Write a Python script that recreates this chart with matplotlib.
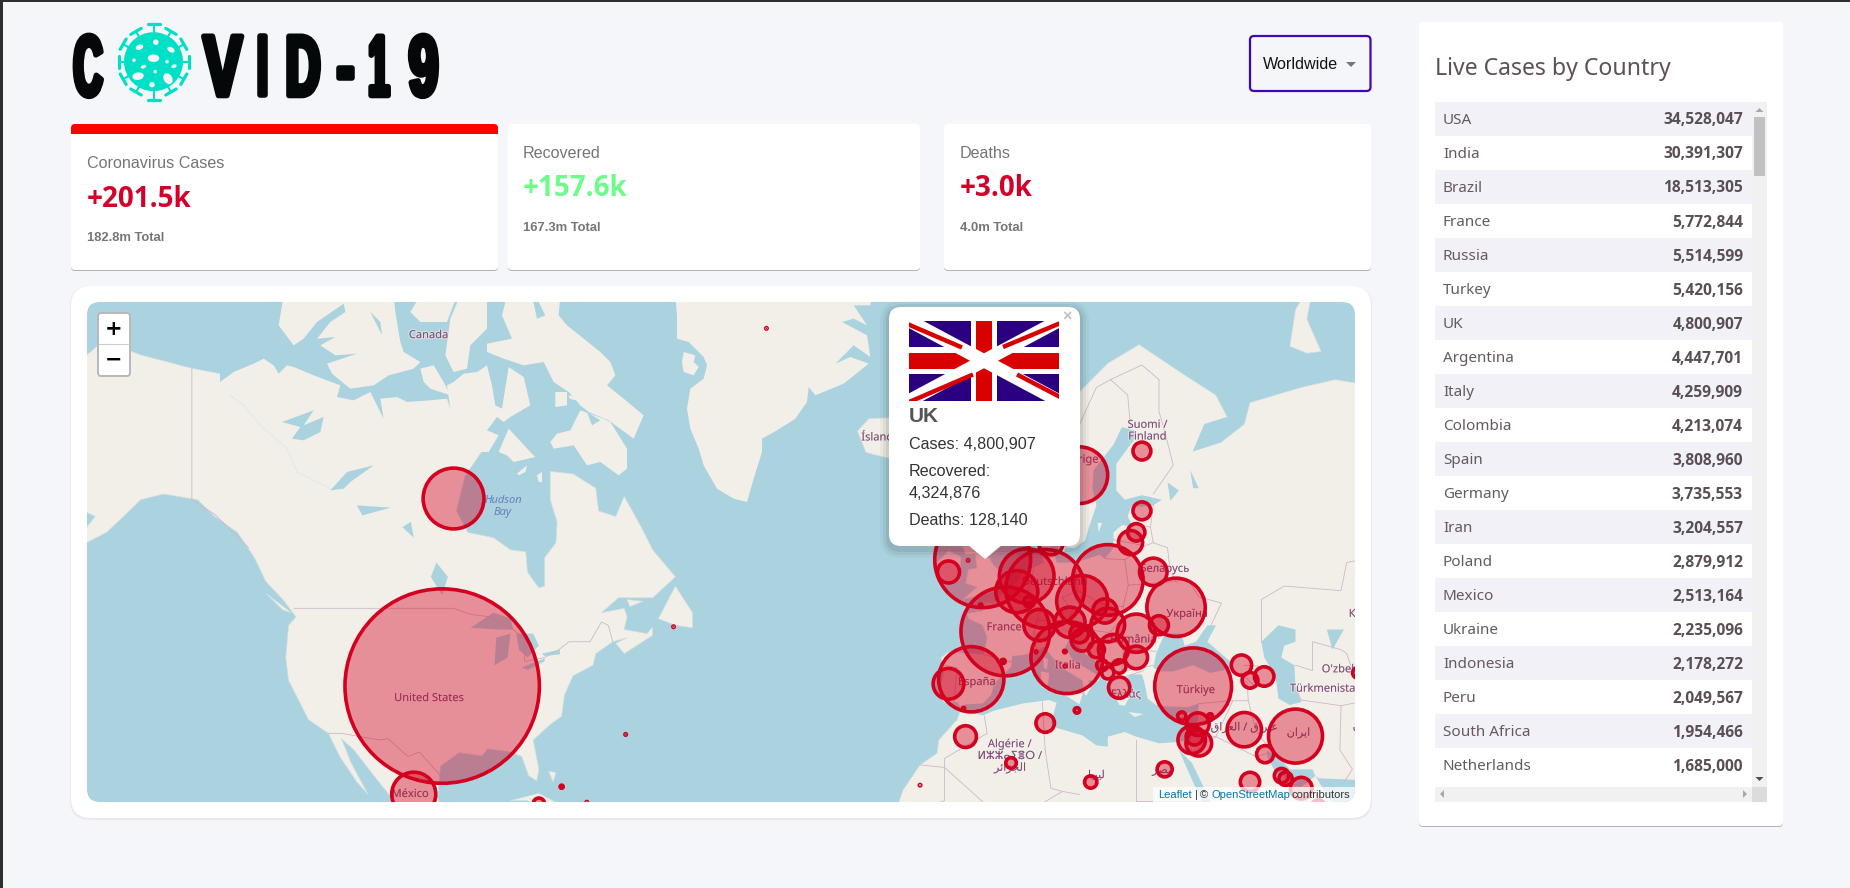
import numpy as np
import matplotlib
matplotlib.use('Agg')
import matplotlib.pyplot as plt
import matplotlib.patheffects as pe
from matplotlib.patches import FancyBboxPatch, Circle, Ellipse, Polygon, Rectangle
from matplotlib.transforms import Affine2D

W, H = 1850, 888

# --- page content -------------------------------------------------------
stat_titles = ['Coronavirus Cases', 'Recovered', 'Deaths']
stat_today = ['+201.5k', '+157.6k', '+3.0k']
stat_totals = ['182.8m Total', '167.3m Total', '4.0m Total']
stat_colors = ['#d4002a', '#6dfb8b', '#d4002a']

table_names = ['USA', 'India', 'Brazil', 'France', 'Russia', 'Turkey', 'UK', 'Argentina',
               'Italy', 'Colombia', 'Spain', 'Germany', 'Iran', 'Poland', 'Mexico',
               'Ukraine', 'Indonesia', 'Peru', 'South Africa', 'Netherlands']
table_cases = [34528047, 30391307, 18513305, 5772844, 5514599, 5420156, 4800907, 4447701,
               4259909, 4213074, 3808960, 3735553, 3204557, 2879912, 2513164,
               2235096, 2178272, 2049567, 1954466, 1685000]

# --- circles: country, lat, lon, cases ----------------------------------
map_names = ['USA', 'Canada', 'Mexico', 'Greenland', 'St Pierre', 'Bermuda', 'Bahamas', 'Cuba', 'Turks',
             'UK', 'Ireland', 'Isle of Man', 'Channel Is', 'Netherlands', 'Belgium', 'Luxembourg', 'Germany',
             'France', 'Switzerland', 'Austria', 'Italy', 'Spain', 'Portugal', 'Andorra', 'Monaco',
             'San Marino', 'Holy See', 'Gibraltar', 'Poland', 'Czechia', 'Slovakia', 'Hungary', 'Romania',
             'Bulgaria', 'Serbia', 'Croatia', 'Bosnia', 'Slovenia', 'Greece', 'N Macedonia', 'Albania',
             'Montenegro', 'Moldova', 'Ukraine', 'Belarus', 'Lithuania', 'Latvia', 'Estonia', 'Finland',
             'Sweden', 'Norway', 'Denmark', 'Morocco', 'Algeria', 'Tunisia', 'Libya', 'Egypt', 'Malta',
             'W Sahara', 'Turkey', 'Cyprus', 'Syria', 'Lebanon', 'Israel', 'Palestine', 'Jordan', 'Iraq',
             'Iran', 'Georgia', 'Armenia', 'Azerbaijan', 'Kuwait', 'Saudi Arabia', 'Bahrain', 'Qatar',
             'UAE', 'Oman', 'Uzbekistan']
map_lat = [38, 60, 23, 72, 46.83, 32.33, 24.25, 21.5, 21.75,
           54, 53, 54.23, 49.35, 52.5, 50.83, 49.75, 51,
           46, 47, 47.33, 42.83, 40, 39.5, 42.5, 43.73,
           43.77, 41.9, 36.13, 52, 49.75, 48.67, 47, 46,
           43, 44, 45.17, 44, 46, 39, 41.83, 41,
           42, 47, 49, 53, 56, 57, 59, 64,
           62, 62, 56, 32, 28, 34, 25, 27, 35.83,
           24.5, 39, 35, 35, 33.83, 31.5, 32, 31, 33,
           32, 42, 40, 40.5, 29.34, 25, 26, 25.5,
           24, 21, 41]
map_lon = [-97, -95, -102, -40, -56.33, -64.75, -76, -80, -71.58,
           -2, -8, -4.55, -2.36, 5.75, 4, 6.17, 9,
           2, 8, 13.33, 12.83, -4, -8, 1.6, 7.4,
           12.46, 12.45, -5.35, 20, 15.5, 19.5, 20, 25,
           25, 21, 15.5, 18, 15, 22, 22, 20,
           19, 29, 32, 28, 24, 25, 26, 26,
           15, 10, 10, -5, 3, 9, 17, 30, 14.58,
           -13, 35, 33, 38, 35.83, 34.75, 35.25, 36, 44,
           53, 43.5, 45, 47.5, 47.66, 45, 50.55, 51.25,
           54, 57, 64]
map_cases = [34528047, 1410000, 2513164, 120, 30, 2500, 12000, 170000, 2400,
             4800907, 270000, 100, 4000, 1685000, 1080000, 70000, 3735553,
             5772844, 700000, 650000, 4259909, 3808960, 860000, 13900, 2500,
             5090, 30, 4300, 2879912, 1660000, 390000, 808000, 1080000,
             420000, 715000, 360000, 205000, 257000, 420000, 155000, 132000,
             100000, 256000, 2235096, 420000, 278000, 137000, 130000, 94000,
             1080000, 128000, 290000, 520000, 133000, 360000, 190000, 275000, 30000,
             10, 5420156, 72000, 25000, 540000, 840000, 310000, 740000, 1270000,
             3204557, 350000, 223000, 335000, 340000, 470000, 260000, 220000,
             600000, 250000, 105000]

# --- geography, (lon, lat) outlines --------------------------------------
north_america = [(-168, 65.6), (-164, 66.5), (-166, 68.3), (-163, 69.5), (-156.5, 71.3), (-150, 70.5), (-141, 69.7),
                 (-135, 69.3), (-128, 70.2), (-124, 69.6), (-120, 69.4), (-115, 68.5), (-108, 68), (-102, 67.9),
                 (-97, 68.5), (-95, 71.5), (-92, 70), (-90, 68.8), (-86, 67.5), (-85, 69.5), (-81.5, 68.5),
                 (-82, 66.5), (-87, 65.5), (-90, 64), (-93, 62), (-94.5, 59), (-92.5, 57), (-88, 56.5),
                 (-85, 55.3), (-82.3, 55.1), (-82, 53), (-80, 51.3), (-79, 51.5), (-79, 54.5), (-77, 56),
                 (-76.8, 58), (-78, 60), (-78, 62.4), (-74, 62.2), (-70, 61), (-69.5, 59), (-66.5, 58.5),
                 (-65, 60.3), (-62, 57.5), (-60, 55.3), (-56, 52.5), (-60, 50.2), (-66, 50.2), (-69, 48.5),
                 (-65, 49), (-64.5, 48), (-65, 46.5), (-61, 46), (-60, 46.8), (-60, 45.8), (-65, 43.5),
                 (-66.5, 44.8), (-64.5, 45.5), (-67, 45), (-70, 43.5), (-70.5, 42), (-74, 40.6), (-75.5, 38),
                 (-76, 35), (-78, 33.8), (-81, 31.5), (-80, 27), (-80.4, 25.2), (-81.8, 26), (-83, 29),
                 (-85, 29.7), (-89, 30.2), (-90, 29.1), (-94, 29.6), (-97.3, 27.5), (-97.8, 22.5), (-97, 20),
                 (-94, 18), (-90, 21), (-87, 21.5), (-88, 16), (-84, 10), (-104, 10), (-105, 20), (-105.5, 22),
                 (-109, 26), (-112.5, 30), (-114.7, 31.7), (-113, 28), (-110, 23), (-112, 25), (-115, 29),
                 (-117, 32.5), (-120.5, 34.5), (-124, 40), (-124.5, 43), (-124, 47), (-122.7, 48), (-125, 50),
                 (-128, 52), (-130, 54.5), (-133, 57), (-137, 58.5), (-140, 60), (-146, 60.5), (-150, 60),
                 (-152, 59), (-156, 57), (-163, 55), (-158, 58.5), (-162, 59.5), (-165, 62), (-161, 64.5)]
eurasia_africa = [(25.5, 71.1), (20, 70), (15, 68.2), (12.5, 65.5), (10, 63.5), (5.2, 62), (5, 60), (5.7, 58.7),
                  (7.5, 58), (10, 59), (11.2, 59), (11.5, 58), (12.5, 56.5), (12.8, 55.6), (12, 55), (11, 54.3),
                  (10, 55.5), (10.5, 57.7), (8.2, 57), (8.2, 55), (8.8, 54), (7, 53.5), (5, 53), (4, 52),
                  (3, 51.3), (1.6, 50.8), (0, 49.5), (-1.5, 49.6), (-2, 48.7), (-4.7, 48.4), (-4.5, 47.8),
                  (-2, 47), (-1.2, 45.5), (-1.8, 43.4), (-8, 43.7), (-9.3, 43), (-8.8, 41), (-9.5, 38.7),
                  (-8.9, 37), (-6.5, 37), (-5.6, 36), (-5.9, 35.8), (-6.5, 34.5), (-9.7, 31.5), (-10, 29.5),
                  (-13, 27.7), (-16, 23.7), (-17, 21), (-17, 15), (-15, 10), (80, 10), (80, 73), (72, 73),
                  (68, 70), (68, 68.5), (60, 69), (54, 68.5), (45, 67.5), (44, 66), (40, 64.7), (35, 64),
                  (37, 66), (41, 66.5), (39, 68), (33, 69.4)]
islands = [
    [(-59, 47.8), (-56, 51.5), (-53, 48.5), (-53, 46.7), (-56, 47)],
    [(-128, 50.7), (-123.5, 48.5), (-125, 48.8)],
    [(-64.5, 50), (-61.7, 49.8), (-64, 49.2)],
    [(-24, 65.5), (-22, 66.4), (-16, 66.5), (-13.5, 65), (-18, 63.4), (-22.5, 63.9)],
    [(-5, 58.6), (-3, 58.6), (-2, 57.5), (-3, 56), (-1.5, 55), (0, 53.7), (1.7, 52.7), (1.2, 51.2), (-1, 50.7),
     (-5.5, 50), (-3, 51.4), (-5, 51.8), (-4.5, 53.3), (-3, 53.4), (-3.3, 54.9), (-5, 54.8), (-5.7, 56), (-6, 57.5)],
    [(-10, 54), (-8, 55.2), (-5.8, 54.6), (-6, 52.2), (-9.5, 51.5), (-10, 52.5)],
    [(52, 71), (55, 70.6), (57.5, 70.7), (55, 72.5), (56, 74), (65, 76), (68, 77), (60, 76), (53, 73)],
    [(-85, 22), (-80, 23.2), (-75, 20.7), (-74.2, 20), (-78, 19.9), (-82, 22)],
    [(-74.4, 19.8), (-70, 19.9), (-68.4, 18.6), (-71.5, 17.8), (-74.4, 18.4)],
    [(-78.3, 26.7), (-77, 26.5), (-77.5, 25)],
]
islands_after_sea = [
    [(8.2, 41.2), (9.7, 41), (9.5, 39.2), (8.5, 39)],
    [(8.7, 43), (9.5, 42.8), (9.3, 41.4), (8.7, 41.8)],
    [(12.5, 38), (15.6, 38.2), (15, 36.7)],
    [(23.6, 35.6), (26.3, 35.3), (24.7, 34.9)],
    [(32.3, 35), (34.5, 35.6), (33.7, 34.7)],
    [(10.2, 55.5), (10.8, 55.4), (10.5, 55)],
    [(11.2, 55.8), (12.6, 56), (12.3, 55), (11.3, 55.2)],
    [(18.2, 57.9), (19, 57.9), (18.4, 57)],
]
seas = [
    [(12.8, 55.5), (14.2, 55.5), (16, 56.2), (16.7, 57.5), (18, 59.5), (17.3, 61), (17.5, 62.5), (21, 64.5), (22.5, 65.8),
     (25, 65.5), (24.5, 64.8), (21.5, 63), (21.5, 60.8), (23, 60), (26, 60.4), (29.5, 60), (28, 59.5), (24, 59.3),
     (23.5, 58.5), (24.5, 57.5), (22.5, 57.7), (21, 57), (21, 55.5), (19.5, 54.4), (18.5, 54.8), (16, 54.3), (14, 54),
     (11, 54), (10.8, 54.8), (12, 55.3)],
    [(-5.6, 36), (-5, 36.7), (-2, 36.8), (-0.5, 38), (0, 39.5), (3, 41.8), (3.2, 43.2), (5, 43.3), (7.5, 43.8), (8.8, 44.4),
     (10.3, 43), (12.5, 41.4), (15.5, 40), (16, 38), (16.3, 38), (17, 39), (16.6, 40), (18.4, 39.9), (18, 40.8), (16, 41.7),
     (14, 42.5), (12.5, 44.3), (13.5, 45.7), (14.5, 45), (16, 43.5), (19.3, 41.8), (19.4, 40.4), (21, 38.5), (22, 36.6),
     (23, 36.5), (24, 38), (23, 40), (24, 40.8), (26, 40.8), (26.5, 39.5), (27, 37.5), (28.5, 36.6), (30.5, 36.4),
     (34, 36.3), (36, 36.8), (35.8, 34.5), (34.5, 31.5), (32, 31.2), (29, 31), (25, 32), (23, 32.7), (20, 32), (20, 30.5),
     (18, 30.7), (15.5, 32.2), (11, 33.3), (10, 34), (11, 36.9), (9.7, 37.3), (5, 36.8), (0, 35.8), (-2, 35.1), (-5.3, 35.8)],
    [(28, 41.7), (28.5, 43.5), (30, 46), (33, 46), (33.5, 44.5), (35.5, 45), (37.5, 47), (39, 47), (37.5, 45), (41.5, 42.5),
     (41.5, 41.5), (38, 41), (35, 42), (31.5, 41.2), (29, 41.2)],
    [(47, 45), (50, 47), (53, 46.5), (53, 45), (51, 44.5), (50.5, 43), (52.8, 42), (53, 39), (54, 37), (52, 36.6), (50, 37.5),
     (49.5, 40.5), (47.5, 43)],
    [(58.5, 46.5), (61.5, 46.5), (59.5, 44)],
    [(32.5, 30), (34.8, 28), (38, 22), (43, 13), (39, 15), (37, 21), (35, 25), (33.5, 28)],
    [(48, 30), (51, 28), (52, 27), (56, 27), (56.5, 26), (54, 24.2), (51.5, 24.5), (51, 26), (49.5, 26.5), (48, 29)],
    [(56.5, 26), (58, 23.7), (60, 21), (75, 21), (65, 25.3), (57, 25.6)],
    [(35, 64), (37, 66), (41, 66.5), (40, 65.5), (40, 64.7)],
    [(30.5, 61.5), (32.5, 60.8), (31, 59.9)], [(34.5, 62.5), (36, 61), (35, 61)],
    [(12.5, 59.3), (14, 59.2), (13, 58.4)],
    [(-92, 46.7), (-88, 48.5), (-85, 47.8), (-84.5, 46.5), (-87, 46.5)],
    [(-87.8, 42), (-87.5, 45.5), (-85, 46), (-85.5, 43)],
    [(-84, 46), (-81, 46), (-80, 44.5), (-82, 43), (-83.5, 44)],
    [(-83, 41.7), (-79, 42.9), (-79, 42.5), (-82, 41.4)],
    [(-79.5, 43.5), (-76.3, 44), (-76.3, 43.4), (-79, 43.2)],
    [(-98, 54), (-96, 52.5), (-97, 50.5), (-99, 52.5)],
    [(-112, 59.5), (-106, 59.3), (-111, 58.6)],
    [(-104, 57.5), (-102.5, 58), (-102, 56.5)],
]
borders = [
    [(-141, 69.7), (-141, 60), (-137, 58.7), (-131, 55.5)],
    [(-123, 49), (-95, 49), (-92, 48.3), (-88.5, 48), (-84.5, 46.5), (-82.5, 45.3), (-82.5, 42.5), (-79, 43), (-76.5, 44),
     (-74.7, 45), (-71, 45), (-69, 47.4), (-67.8, 47), (-67, 45)],
    [(-117, 32.5), (-114.7, 32.5), (-108, 31.5), (-106.5, 31.7), (-103, 29), (-101, 29.7), (-97.3, 26)],
    [(20.5, 69), (18, 68.5), (14.5, 65.5), (12, 61), (11.3, 59)],
    [(20.5, 69), (23.5, 68), (24, 65.8)], [(20.5, 69), (26, 69.9), (29, 69)],
    [(29, 69), (29, 66.9), (30, 65.5), (31.5, 62.9), (28, 60.5)],
    [(28, 59.5), (27.5, 57.5), (28, 56), (30.5, 55.5), (31, 53), (32, 52), (34, 52.3), (36, 50.3), (40, 49.6), (38.2, 47.1)],
    [(23.6, 51.6), (32, 52)], [(23, 54.3), (23.6, 51.6), (22.7, 49.2)],
    [(14.2, 53.9), (14.7, 51), (19, 49.5), (22.7, 49.2)], [(19.5, 54.4), (23, 54.3)],
    [(23, 54.3), (26.5, 55.7), (28, 56)], [(21, 56.3), (26.5, 55.7)], [(24.3, 57.9), (27.5, 57.5)],
    [(7, 53.3), (6, 51), (6, 49.5), (8, 49), (7.6, 47.6), (13, 47.5), (13.8, 48.7), (12, 50.2), (14.7, 51)],
    [(-1.8, 43.4), (3.2, 42.4)], [(7.5, 43.8), (7, 45.9), (7.6, 47.6)],
    [(3, 51.3), (6, 49.5)], [(4, 51.4), (6, 51)],
    [(22.7, 48), (26.5, 48.2), (29, 45.4)], [(22.7, 44), (28.5, 43.8)], [(22.7, 49.2), (22.7, 48), (20.3, 46.1), (22.7, 44)],
    [(13.5, 46.5), (16.5, 46.5), (20.3, 46.1)], [(16.9, 48.6), (22.7, 48)], [(22.7, 44), (22.5, 41.2), (26.3, 41.7), (28, 42)],
    [(20, 39.7), (26.3, 41.3)], [(-8.8, 42), (-6.5, 41.7), (-7, 37)],
    [(36, 36.8), (42, 37.2), (44.7, 37.2), (44.5, 39.7), (41.5, 41.5)], [(44.7, 37.2), (46, 33), (48.5, 30)],
    [(54, 37.3), (61, 36.5), (60.8, 30), (63, 27), (61.5, 25)],
    [(39, 32), (46, 29), (48, 29.5)], [(36, 32), (39, 32), (42, 37.2)], [(34.5, 29.5), (39, 32)],
    [(25, 31.5), (25, 20)], [(34.3, 31.3), (34.9, 29.5)], [(25, 22), (37, 22)],
    [(9, 30), (10, 24), (12, 23.5)], [(8.5, 37), (9, 30)], [(-1.7, 35), (-1.2, 32.5), (-8.7, 28.7), (-8.7, 27.3)],
    [(-13, 27.7), (-8.7, 27.3), (-8.7, 22), (-12, 21)], [(-8.7, 27.3), (-1, 21), (4, 19), (12, 23.5), (15, 23)],
    [(47, 50), (51, 51.5), (61, 51), (62, 54), (70, 55)], [(47, 50), (47, 45)],
    [(53, 42), (56, 41.3), (56, 45), (61, 44), (62, 43.5), (64, 39)], [(53, 39), (54, 37.3)],
    [(61, 36.5), (66, 37.3), (64, 39)], [(44, 42), (48, 41.8), (49.5, 40.5)], [(43.5, 41), (46, 39), (48, 39.5)],
    [(48.5, 29), (55, 22), (52, 19)], [(52, 24.5), (56, 25)],
]

# arctic coasts traced from the tiles, in 3x units of two crops of the screen
ARCTIC_A = (87, 302)
ARCTIC_B = (487, 302)
arctic_erase = [(ARCTIC_A, [(399, -20), (1340, -20), (1340, 399), (399, 399)])]
arctic_land = [
    (ARCTIC_A, [(399, 240), (440, 210), (500, 185), (530, 170), (560, 190), (575, 215), (600, 190), (620, 195), (680, 220),
                (760, 250), (750, 285), (800, 295), (850, 270), (870, 310), (890, 350), (880, 290), (930, 285), (960, 300),
                (1030, 295), (1080, 290), (1090, 320), (1080, 250), (1100, 240), (1130, 215), (1170, 210), (1200, 190),
                (1215, 250), (1225, 310), (1245, 320), (1265, 195), (1310, 225), (1330, 310), (1270, 345), (1250, 360),
                (1230, 345), (1200, 385), (1200, 420), (399, 420)]),
    (ARCTIC_A, [(590, -20), (575, 70), (620, 130), (650, 110), (690, 60), (770, 5), (775, 30), (730, 60), (690, 110), (745, 105),
                (700, 130), (745, 160), (810, 155), (720, 185), (735, 215), (790, 260), (860, 250), (905, 220), (980, 200),
                (1000, 180), (950, 150), (940, 120), (925, 30), (920, -20)]),
    (ARCTIC_A, [(1000, -20), (970, 30), (1000, 60), (1080, 60), (1110, -20)]),
    (ARCTIC_A, [(1120, -20), (1090, 50), (1075, 160), (1100, 210), (1140, 200), (1150, 130), (1200, 80), (1200, -20)]),
    (ARCTIC_A, [(1000, 200), (1040, 190), (1070, 240), (1090, 280), (1030, 260), (1010, 240)]),
    (ARCTIC_B, [(60, -20), (45, 40), (75, 110), (0, 125), (0, 150), (50, 170), (110, 190), (170, 180), (200, 240), (245, 270),
                (280, 310), (305, 330), (365, 355), (440, 410), (470, 340), (410, 290), (360, 250), (385, 220), (370, 180),
                (340, 150), (290, 110), (240, 70), (215, 40), (220, -20)]),
    (ARCTIC_B, [(190, 420), (210, 395), (250, 385), (280, 325), (350, 350), (370, 360), (420, 440), (420, 500), (395, 520),
                (340, 480), (300, 490), (260, 430), (200, 440)]),
    (ARCTIC_B, [(35, 450), (65, 380), (130, 450), (145, 465), (80, 480), (60, 460)]),
    (ARCTIC_B, [(0, 385), (35, 400), (5, 450), (-20, 450)]),
    (ARCTIC_B, [(205, 270), (240, 270), (240, 310), (205, 315)]),
    (ARCTIC_B, [(245, 280), (270, 285), (265, 295), (248, 290)]),
    (ARCTIC_B, [(90, 515), (120, 490), (115, 510), (95, 520)]),
    (ARCTIC_B, [(150, 520), (165, 510), (165, 540), (155, 540)]),
    (ARCTIC_B, [(565, -20), (570, 40), (570, 110), (605, 120), (650, 165), (660, 190), (650, 230), (610, 260), (600, 320),
                (610, 380), (635, 440), (650, 490), (690, 560), (740, 590), (780, 600), (800, 530), (825, 450), (825, 410),
                (870, 385), (925, 350), (960, 300), (965, 255), (985, 280), (1070, 245), (1145, 185), (1090, 165), (1045, 185),
                (1100, 130), (1150, 165), (1140, 100), (1065, 60), (1100, 50), (1140, 70), (1100, 10), (1150, 10), (1155, -20)]),
    (ARCTIC_B, [(590, 150), (625, 160), (620, 180), (635, 195), (620, 220), (590, 210), (585, 180)]),
]
arctic_water = [
    (ARCTIC_A, [(850, 30), (880, 60), (885, 100), (870, 70)]),
    (ARCTIC_A, [(585, 360), (680, 325), (650, 370), (710, 345), (700, 390), (650, 415), (615, 410), (640, 375)]),
    (ARCTIC_A, [(730, 565), (780, 510), (860, 490), (790, 540), (770, 560)]),
    (ARCTIC_B, [(135, -20), (150, 50), (175, 40), (145, -20)]),
    (ARCTIC_B, [(300, 330), (340, 355), (315, 370)]),
]
arctic_rivers = [
    (ARCTIC_A, [(430, 280), (470, 310), (520, 370), (600, 440), (630, 510), (730, 560)]),
]

label_texts = ['Canada', 'Ísland', 'United States', 'México', 'United Kingdom', 'Suomi /\nFinland', 'Беларусь', 'Deutschland',
               'France', 'España', 'Italia', 'Україна', 'România', 'Türkiye', 'Ελλάς',
               'Algérie /\nⵍⵣⵣⴰⵢⴻⵔ /\nﺮﺋﺍﺰﺠﻟﺍ', 'ﺎﻴﺒﻴﻟ', 'ﺮﺼﻣ', 'ﻕﺍﺮﻌﻟﺍ / ﻕﺍﺮﻴﻋ', 'ﻥﺍﺮﻳﺍ',
               "O'zbekiston", 'Türkmenistan', 'Sverige', 'Қазақстан', 'ﻥﺎﺘﺴﻧﺎﻐﻓﺍ']
label_lon = [-99.4, -20.5, -99.3, -102.6, -4, 27, 30, 10.7,
             1.8, -3, 13, 34, 24.5, 35.5, 23.2,
             2.8, 18, 29.7, 44, 53.5,
             63, 58.4, 15, 67.2, 67]
label_lat = [71.6, 65, 37.5, 23, 56, 65.5, 53.3, 51.9,
             46.7, 39.7, 41.9, 48.3, 45.2, 38.6, 38,
             29, 26, 26.8, 33.3, 32.5,
             41.4, 38.8, 63.3, 48.3, 33.4]

# logo glyphs: text, centre x, width on the page
logo_glyphs = ['C', 'V', 'I', 'D', '-', '1', '9']
logo_x = [88, 222.6, 262.5, 303, 345.5, 379, 423.5]
logo_w = [34, 44, 15, 40, 22, 26, 35]

PX_PER_DEG = 2048 / 360.0
MAP_BOX = (87, 302, 1355, 802)
LON_ZERO_X, EQUATOR_Y = 994, 929


def merc(lat):
    return np.degrees(np.arcsinh(np.tan(np.radians(lat))))


def box(ax, x0, y0, x1, y1, r, **kw):
    p = FancyBboxPatch((x0, y0), x1 - x0, y1 - y0, boxstyle='round,pad=0,rounding_size=%g' % r, **kw)
    ax.add_patch(p)
    return p


def px_axes(zorder):
    a = fig.add_axes([0, 0, 1, 1], zorder=zorder)
    a.set_xlim(0, W)
    a.set_ylim(H, 0)
    a.axis('off')
    return a


class Squeeze(pe.AbstractPathEffect):
    """draw text rescaled around an anchor point, with a stroke to keep it heavy"""

    def __init__(self, cx, cy, sx, sy, stroke, color):
        super().__init__()
        self.cx, self.cy, self.sx, self.sy, self.stroke, self.color = cx, cy, sx, sy, stroke, color

    def draw_path(self, renderer, gc, tpath, affine, rgbFace=None):
        gc0 = renderer.new_gc()
        gc0.copy_properties(gc)
        gc0.set_linewidth(self.stroke)
        gc0.set_foreground(self.color)
        gc0.set_joinstyle('round')
        t = affine + Affine2D().translate(-self.cx, -self.cy).scale(self.sx, self.sy).translate(self.cx, self.cy)
        renderer.draw_path(gc0, tpath, t, rgbFace)
        gc0.restore()


fig = plt.figure(figsize=(W / 100, H / 100), dpi=100, facecolor='#f5f6fa')
SANS = ['Liberation Sans']
UBU = ['Noto Sans', 'DejaVu Sans']

ui = px_axes(1)
top = px_axes(3)
top.patch.set_alpha(0)

# window edge
ui.add_patch(Rectangle((0, 0), W, 2, fc='#2e2e2e', ec='none'))
ui.add_patch(Rectangle((0, 0), 2.5, H, fc='#2e2e2e', ec='none'))

# logo, set small and scaled up by the path effect so the glyph boxes keep apart
rend = fig.canvas.get_renderer()
LOGO_BASE = 95.5
for g, cx, tw in zip(logo_glyphs, logo_x, logo_w):
    t = ui.text(cx, LOGO_BASE, g, family=SANS, weight='bold', fontsize=31, color='#050808', va='baseline', ha='center')
    sx = (tw - 5.5) / t.get_window_extent(rend).width
    t.set_path_effects([Squeeze(cx, H - LOGO_BASE, sx, 2.0, 4.0, '#050808')])

TEAL = '#00e0c6'
VX, VY = 153.5, 61.7
for ang in np.arange(0, 360, 30):
    c, s = np.cos(np.radians(ang)), np.sin(np.radians(ang))
    L = 38 if ang in (90, 270) else 35
    ui.plot([VX, VX + L * c], [VY, VY + L * s], color=TEAL, lw=1.5, solid_capstyle='butt')
    ui.plot([VX + L * c - 6 * s, VX + L * c + 6 * s], [VY + L * s + 6 * c, VY + L * s - 6 * c], color=TEAL, lw=2.3,
            solid_capstyle='round')
ui.add_patch(Circle((VX, VY), 29.5, fc=TEAL, ec='none', zorder=3))
for dx, dy, ew, eh, a in [(-14, -14.5, 8, 5, -20), (2.3, -19.5, 5.5, 5.5, 0), (17.5, -12, 8, 5, 30), (0, -3.5, 11.5, 7.5, 0),
                          (-19.5, -1.5, 3.5, 3.5, 0), (13.5, 0, 3.5, 3.5, 0), (-10, 5, 5.5, 3.5, -20), (20.5, 4.5, 5.5, 3.5, -20),
                          (1.7, 10, 3.5, 3.5, 0), (-15.5, 14.5, 11.5, 7.5, -10), (14.5, 17, 8.5, 11.5, -30), (-1.5, 23, 5.5, 5.5, 0)]:
    ui.add_patch(Ellipse((VX + dx, VY + dy), ew, eh, angle=a, fc='#f5f6fa', ec='none', zorder=4))

# worldwide dropdown
box(ui, 1250, 36, 1370.5, 91, 4, fc='#f5f6fa', ec='#3f06b3', lw=1.6)
ui.text(1263, 64.5, 'Worldwide', family=SANS, fontsize=11.6, color='#111111', va='center')
ui.add_patch(Polygon([(1346, 62), (1356, 62), (1351, 67)], fc='#757575', ec='none'))

# stat cards
card_x = [(71, 498), (508, 920), (944, 1371)]
text_x = [87, 523, 960]
dy = [10, 0, 0]
for i in range(3):
    x0, x1 = card_x[i]
    box(ui, x0, 125.5, x1, 271, 4, fc='#b3b3b3', ec='none')
    box(ui, x0, 124, x1, 270, 4, fc='white', ec='none')
    yo = dy[i]
    ui.text(text_x[i], 153 + yo, stat_titles[i], family=SANS, fontsize=11.6, color='#757575', va='center')
    ui.text(text_x[i], 189 + yo, stat_today[i], family=['Open Sans'], weight='bold', fontsize=20, color=stat_colors[i], va='center')
    ui.text(text_x[i], 228 + yo, stat_totals[i], family=SANS, weight='bold', fontsize=9.4, color='#757575', va='center')
box(ui, 71, 124, 498, 134, 4, fc='#ff0000', ec='none')
ui.add_patch(Rectangle((71, 130), 427, 4, fc='#ff0000', ec='none'))

# map card
box(ui, 70, 286, 1372, 820, 20, fc='#e9e9ef', ec='none')
box(ui, 71, 286, 1371, 818, 20, fc='white', ec='none')
map_bg = box(ui, MAP_BOX[0], MAP_BOX[1], MAP_BOX[2], MAP_BOX[3], 13, fc='#aad3df', ec='none')

# map axes, degrees in x and mercator degrees in y
m = fig.add_axes([MAP_BOX[0] / W, 1 - MAP_BOX[3] / H, (MAP_BOX[2] - MAP_BOX[0]) / W, (MAP_BOX[3] - MAP_BOX[1]) / H], zorder=2)
m.set_xlim((MAP_BOX[0] - LON_ZERO_X) / PX_PER_DEG, (MAP_BOX[2] - LON_ZERO_X) / PX_PER_DEG)
m.set_ylim((EQUATOR_Y - MAP_BOX[3]) / PX_PER_DEG, (EQUATOR_Y - MAP_BOX[1]) / PX_PER_DEG)
m.axis('off')
m.patch.set_alpha(0)


def to_map(pts):
    a = np.array(pts, dtype=float)
    return np.column_stack([a[:, 0], merc(a[:, 1])])


def traced(item):
    (ox, oy), pts = item
    a = np.array(pts, dtype=float) / 3.0
    return np.column_stack([(ox + a[:, 0] - LON_ZERO_X) / PX_PER_DEG, (EQUATOR_Y - oy - a[:, 1]) / PX_PER_DEG])


LAND, SEA, BORDER = '#f2efe9', '#aad3df', '#cdb8c9'
COAST = '#cfe0df'
for poly in [north_america, eurasia_africa] + islands:
    m.add_patch(Polygon(to_map(poly), fc=LAND, ec=COAST, lw=0.5, zorder=1))
for poly in seas:
    m.add_patch(Polygon(to_map(poly), fc=SEA, ec='none', zorder=2))
for poly in islands_after_sea:
    m.add_patch(Polygon(to_map(poly), fc=LAND, ec='none', zorder=3))
for item in arctic_erase:
    m.add_patch(Polygon(traced(item), fc=SEA, ec='none', zorder=3.1))
for item in arctic_land:
    m.add_patch(Polygon(traced(item), fc=LAND, ec='none', zorder=3.2))
for item in arctic_water:
    m.add_patch(Polygon(traced(item), fc=SEA, ec='none', zorder=3.3))
for item in arctic_rivers:
    pts = traced(item)
    m.plot(pts[:, 0], pts[:, 1], color='#dce8e8', lw=0.6, zorder=3.3)
for line in borders:
    pts = to_map(line)
    m.plot(pts[:, 0], pts[:, 1], color=BORDER, lw=0.6, zorder=4)

halo = [pe.withStroke(linewidth=1.6, foreground=(0.95, 0.94, 0.91, 0.6))]
for t, lo, la in zip(label_texts, label_lon, label_lat):
    m.text(lo, merc(la), t, family=['Noto Sans', 'DejaVu Sans'], fontsize=8, color='#7c4a78', ha='center', va='center',
           linespacing=1.1, zorder=5, clip_on=True, path_effects=halo)
m.text(-86.3, merc(59.4), 'Hudson\nBay', family=['Noto Sans', 'DejaVu Sans'], style='italic', fontsize=8, color='#6a7fc0',
       ha='center', va='center', zorder=5, linespacing=1.2, clip_on=True)

# case circles, sized the way leaflet does it (metres projected through mercator)
RADIUS_K = 250.0
CIRCLE = '#d4001f'
for lat, lon, n in zip(map_lat, map_lon, map_cases):
    lat_r = np.sqrt(n) * RADIUS_K / 111320.0
    ytop, ybot = merc(lat + lat_r), merc(lat - lat_r)
    r = (ytop - ybot) / 2.0
    # tiny countries end up as a solid dot of stroke
    fill = CIRCLE if r < 0.4 else (0.83, 0.0, 0.12, 0.4)
    m.add_patch(Circle((lon, (ytop + ybot) / 2.0), max(r, 0.12), fc=fill, ec=CIRCLE, lw=2.6, zorder=6))

for art in m.patches + m.lines + m.texts:
    art.set_clip_path(map_bg)

# leaflet zoom control
box(top, 98, 313, 130, 376, 3, fc='white', ec='#b8b8b8', lw=1.4)
top.plot([99, 129], [344.5, 344.5], color='#cccccc', lw=0.8)
top.text(114, 329, '+', family=['DejaVu Sans'], weight='bold', fontsize=15, ha='center', va='center', color='black')
top.text(114, 360, '−', family=['DejaVu Sans'], weight='bold', fontsize=15, ha='center', va='center', color='black')

# attribution
attr_bg = Rectangle((1153, 787), 202, 15, fc=(1, 1, 1, 0.75), ec='none')
top.add_patch(attr_bg)
attr_bg.set_clip_path(map_bg)
for x, t, c in [(1158, 'Leaflet', '#0078a8'), (1194.5, '|', '#333333'), (1200, '©', '#333333'), (1212, 'OpenStreetMap', '#0078a8'),
                (1291.5, 'contributors', '#333333')]:
    top.text(x, 795, t, family=SANS, fontsize=8, color=c, va='center')

# popup
for grow, alpha in [(9, 0.03), (6, 0.05), (3, 0.07)]:
    box(top, 889 - grow, 307 - grow + 3, 1080 + grow, 546 + grow + 3, 12 + grow, fc=(0, 0, 0, alpha), ec='none')
box(top, 889, 307, 1080, 546, 12, fc='white', ec='none')
top.add_patch(Polygon([(968, 545), (1002, 545), (985, 559)], fc='white', ec='none'))
top.text(1067, 317, '×', family=SANS, fontsize=11.5, color='#c3c3c3', ha='center', va='center', weight='bold')

FX0, FY0, FX1, FY1 = 909, 321, 1059, 400.5
NAVY, FRED = '#2a0080', '#d90000'
flag_bg = top.add_patch(Rectangle((FX0, FY0), FX1 - FX0, FY1 - FY0, fc=NAVY, ec='none'))
fxc, fyc = (FX0 + FX1) / 2, (FY0 + FY1) / 2
flag_parts = [
    top.plot([FX0 - 5, FX1 + 5], [FY0 - 3, FY1 + 3], color='white', lw=9.5, solid_capstyle='butt')[0],
    top.plot([FX0 - 5, FX1 + 5], [FY1 + 3, FY0 - 3], color='white', lw=9.5, solid_capstyle='butt')[0],
    top.plot([905, 962], [323, 347.5], color=FRED, lw=3.2, solid_capstyle='butt')[0],
    top.plot([1003, 1063], [347, 322], color=FRED, lw=3.2, solid_capstyle='butt')[0],
    top.plot([908, 973], [402.5, 374.5], color=FRED, lw=3.2, solid_capstyle='butt')[0],
    top.plot([1017, 1063], [374.5, 398.5], color=FRED, lw=3.2, solid_capstyle='butt')[0],
    top.add_patch(Rectangle((fxc - 13, FY0), 26, FY1 - FY0, fc='white', ec='none')),
    top.add_patch(Rectangle((FX0, fyc - 13.5), FX1 - FX0, 27, fc='white', ec='none')),
    top.add_patch(Rectangle((fxc - 8, FY0), 16, FY1 - FY0, fc=FRED, ec='none')),
    top.add_patch(Rectangle((FX0, fyc - 8), FX1 - FX0, 16, fc=FRED, ec='none')),
]
for part in flag_parts:
    part.set_clip_path(flag_bg)

top.text(909, 416, 'UK', family=SANS, weight='bold', fontsize=15, color='#555555', va='center')
top.text(909, 444.5, 'Cases: 4,800,907', family=SANS, fontsize=11.6, color='#333333', va='center')
top.text(909, 471.5, 'Recovered:', family=SANS, fontsize=11.6, color='#333333', va='center')
top.text(909, 493.5, '4,324,876', family=SANS, fontsize=11.6, color='#333333', va='center')
top.text(909, 520.5, 'Deaths: 128,140', family=SANS, fontsize=11.6, color='#333333', va='center')

# right hand table
box(ui, 1419, 23.5, 1783, 827, 4, fc='#b5b5b5', ec='none')
box(ui, 1419, 22, 1783, 826, 4, fc='white', ec='none')
ui.text(1435, 69, 'Live Cases by Country', family=UBU, fontsize=16.6, color='#5e5156', va='center')
ROW_H = 34
ROW_Y0 = 102
for i, (name, cases) in enumerate(zip(table_names, table_cases)):
    y = ROW_Y0 + i * ROW_H
    if i % 2 == 0:
        ui.add_patch(Rectangle((1435, y), 317, ROW_H, fc='#f3f1f8', ec='none'))
    ui.text(1443, y + 18.5, name, family=UBU, fontsize=11, color='#655a5f', va='center')
    ui.text(1743, y + 18.5, format(cases, ','), family=['Open Sans'], weight='bold', fontsize=11.2, color='#5a4f54', va='center', ha='right')
# scrollbars
ui.add_patch(Rectangle((1752, 102), 15, 685, fc='#f1f1f1', ec='none'))
ui.add_patch(Rectangle((1435, 787), 317, 15, fc='#f1f1f1', ec='none'))
ui.add_patch(Rectangle((1752, 787), 15, 15, fc='#dcdcdc', ec='none'))
ui.add_patch(Rectangle((1754, 117), 11, 59, fc='#c1c1c1', ec='none'))
ui.add_patch(Polygon([(1755.5, 112), (1763.5, 112), (1759.5, 108)], fc='#a8a8a8', ec='none'))
ui.add_patch(Polygon([(1755.5, 777), (1763.5, 777), (1759.5, 781)], fc='#505050', ec='none'))
ui.add_patch(Polygon([(1444, 790), (1444, 798), (1440, 794)], fc='#a8a8a8', ec='none'))
ui.add_patch(Polygon([(1743, 790), (1743, 798), (1747, 794)], fc='#a8a8a8', ec='none'))

fig.savefig('out.png', dpi=100, facecolor=fig.get_facecolor())
